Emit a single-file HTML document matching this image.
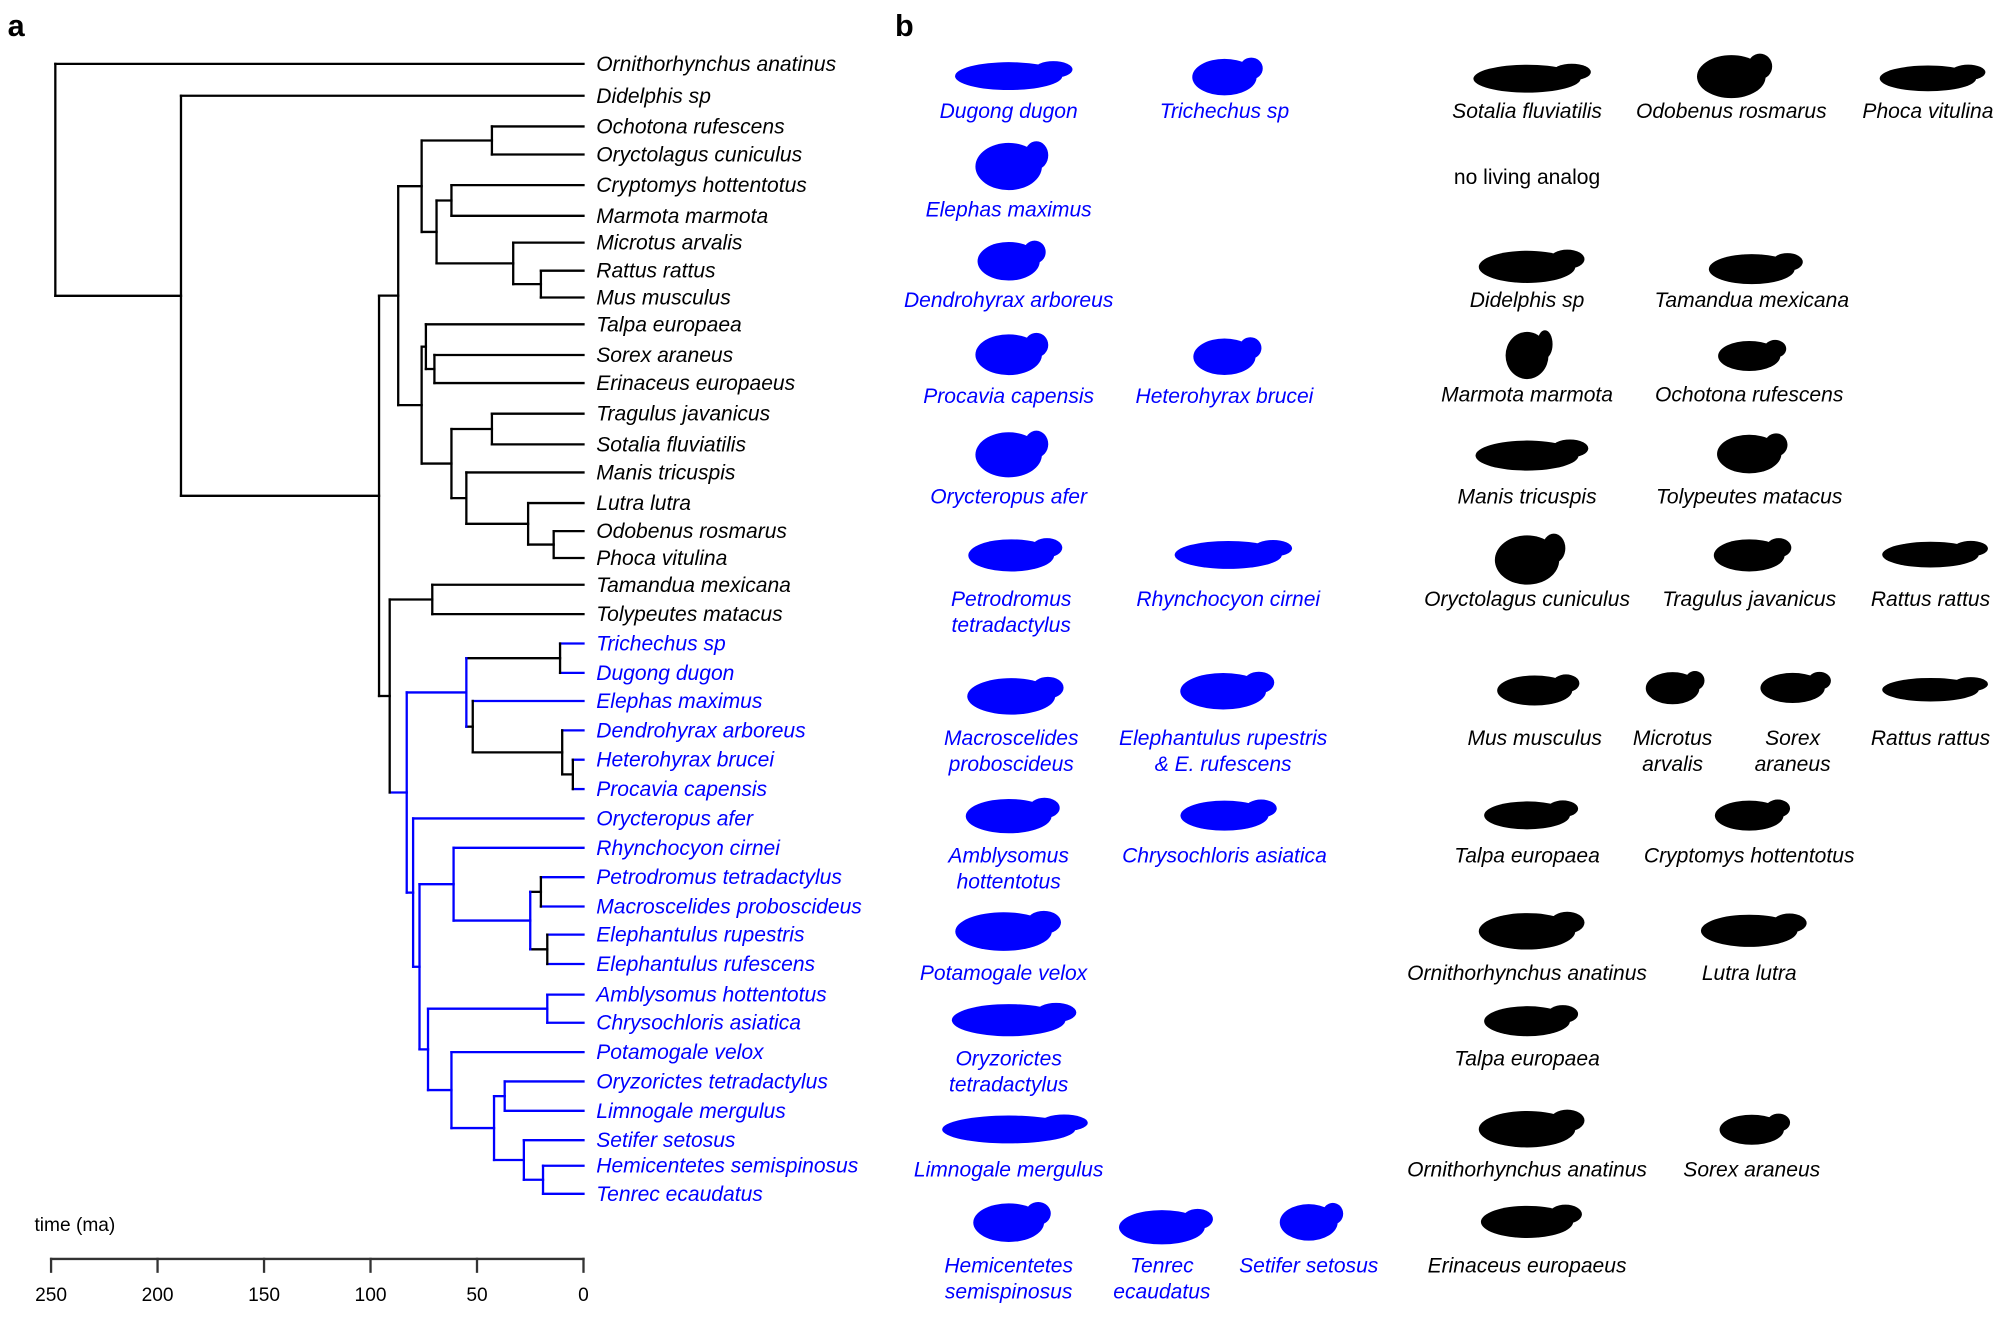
<!DOCTYPE html>
<html><head><meta charset="utf-8"><style>
html,body{margin:0;padding:0;background:#fff}
svg{display:block}
text{font-family:"Liberation Sans","DejaVu Sans",sans-serif}
</style></head><body>
<svg id="fig" width="2002" height="1333" viewBox="0 0 1568 1044" xmlns="http://www.w3.org/2000/svg">
<text x="6" y="28" font-size="24" font-weight="bold">a</text>
<text x="701" y="28" font-size="24" font-weight="bold">b</text>
<g id="tree"></g>
<g id="axis"></g>
<g id="panelb"></g>
</svg>
<script>
const leaves = ["Ornithorhynchus anatinus","Didelphis sp","Ochotona rufescens","Oryctolagus cuniculus","Cryptomys hottentotus","Marmota marmota","Microtus arvalis","Rattus rattus","Mus musculus","Talpa europaea","Sorex araneus","Erinaceus europaeus","Tragulus javanicus","Sotalia fluviatilis","Manis tricuspis","Lutra lutra","Odobenus rosmarus","Phoca vitulina","Tamandua mexicana","Tolypeutes matacus","Trichechus sp","Dugong dugon","Elephas maximus","Dendrohyrax arboreus","Heterohyrax brucei","Procavia capensis","Orycteropus afer","Rhynchocyon cirnei","Petrodromus tetradactylus","Macroscelides proboscideus","Elephantulus rupestris","Elephantulus rufescens","Amblysomus hottentotus","Chrysochloris asiatica","Potamogale velox","Oryzorictes tetradactylus","Limnogale mergulus","Setifer setosus","Hemicentetes semispinosus","Tenrec ecaudatus"];
const leafRowY = [50,75,99,121,145,169,190,212,233,254,278,300,324,348,370,394,416,437,458,481,504,527,549,572,595,618,641,664,687,710,732,755,779,801,824,847,870,893,913,935];
const tree = [248,0,[189,1,[96,
  [87,[76,[43,2,3],[69,[62,4,5],[33,6,[20,7,8]]]],
      [76,[74,9,[70,10,11]],[62,[43,12,13],[55,14,[26,15,[14,16,17]]]]]],
  [91,[71,18,19],
      [83,[55,[11,20,21],[52,22,[10,23,[5,24,25]]],1],
          [80,26,[77,[61,27,[25,[20,28,29],[17,30,31],1],1],
                     [73,[17,32,33,1],[62,34,[42,[37,35,36,1],[28,37,[19,38,39,1],1],1],1],1],1],1],1]]]]];
const ticks = [250,200,150,100,50,0];
const tAt0 = 457, pxPerMa = 1.668;
const xOf = t => tAt0 - t*pxPerMa;
const NS="http://www.w3.org/2000/svg";
const treeG=document.getElementById('tree');
function ln(g,x1,y1,x2,y2,c){const l=document.createElementNS(NS,'line');l.setAttribute('x1',x1);l.setAttribute('y1',y1);l.setAttribute('x2',x2);l.setAttribute('y2',y2);l.setAttribute('stroke',c);l.setAttribute('stroke-width',1.8);l.setAttribute('stroke-linecap','square');


g.appendChild(l);}
function blueLeaf(i){return i>=20;}
function draw(n,parentX){
  if(typeof n==='number'){
    const y=leafRowY[n];const c=blueLeaf(n)?'#0000ff':'#000';
    ln(treeG,parentX,y,xOf(0),y,c);
    const t=document.createElementNS(NS,'text');t.setAttribute('x',467);t.setAttribute('y',y+5.5);t.setAttribute('font-size',16.5);t.setAttribute('font-style','italic');t.setAttribute('fill',c);t.textContent=leaves[n];
    
    
    treeG.appendChild(t);
    return {y,blue:blueLeaf(n)};
  }
  const x=xOf(n[0]);const blue=n[3]===1;const c=blue?'#0000ff':'#000';
  const a=draw(n[1],x),b=draw(n[2],x);
  const y=(a.y+b.y)/2;
  ln(treeG,x,a.y,x,b.y,c);
  if(parentX!==null) ln(treeG,parentX,y,x,y,c);
  return {y,blue};
}
draw(tree,null);
const ax=document.getElementById('axis');
ln(ax,xOf(250),986,xOf(0),986,'#333');
ticks.forEach(v=>{ln(ax,xOf(v),986,xOf(v),996,'#333');
 const t=document.createElementNS(NS,'text');t.setAttribute('x',xOf(v));t.setAttribute('y',1019);t.setAttribute('font-size',15);t.setAttribute('text-anchor','middle');t.textContent=v;
 
 
 ax.appendChild(t);});
const at=document.createElementNS(NS,'text');at.setAttribute('x',27);at.setAttribute('y',964);at.setAttribute('font-size',15);at.textContent='time (ma)';


ax.appendChild(at);
const animals=[
[790,57,100,26,["Dugong dugon"],87,1],[959,57,60,34,["Trichechus sp"],87,1],
[1196,59,100,26,["Sotalia fluviatilis"],87,0],[1356,56,64,40,["Odobenus rosmarus"],87,0],[1510,59,90,24,["Phoca vitulina"],87,0],
[790,126,62,44,["Elephas maximus"],164,1],
[790,201,58,36,["Dendrohyrax arboreus"],235,1],[1196,206,90,30,["Didelphis sp"],235,0],[1372,208,80,28,["Tamandua mexicana"],235,0],
[790,274,62,38,["Procavia capensis"],310,1],[959,276,58,34,["Heterohyrax brucei"],310,1],[1196,274,40,44,["Marmota marmota"],309,0],[1370,276,58,28,["Ochotona rufescens"],309,0],
[790,352,62,42,["Orycteropus afer"],389,1],[1196,354,96,28,["Manis tricuspis"],389,0],[1370,352,60,36,["Tolypeutes matacus"],389,0],
[792,432,80,30,["Petrodromus","tetradactylus"],469,1],[962,432,100,26,["Rhynchocyon cirnei"],469,1],[1196,434,60,46,["Oryctolagus cuniculus"],469,0],[1370,432,66,30,["Tragulus javanicus"],469,0],[1512,432,90,24,["Rattus rattus"],469,0],
[792,542,82,34,["Macroscelides","proboscideus"],578,1],[958,538,80,34,["Elephantulus rupestris","& E. rufescens"],578,1],[1202,538,70,28,["Mus musculus"],578,0],[1310,536,50,30,["Microtus","arvalis"],578,0],[1404,536,60,28,["Sorex","araneus"],578,0],[1512,538,90,22,["Rattus rattus"],578,0],
[790,636,80,32,["Amblysomus","hottentotus"],670,1],[959,636,82,28,["Chrysochloris asiatica"],670,1],[1196,636,80,26,["Talpa europaea"],670,0],[1370,636,64,28,["Cryptomys hottentotus"],670,0],
[786,726,90,36,["Potamogale velox"],762,1],[1196,726,90,34,["Ornithorhynchus anatinus"],762,0],[1370,726,90,30,["Lutra lutra"],762,0],
[790,796,106,30,["Oryzorictes","tetradactylus"],829,1],[1196,797,80,28,["Talpa europaea"],829,0],
[790,882,124,26,["Limnogale mergulus"],916,1],[1196,881,90,34,["Ornithorhynchus anatinus"],916,0],[1372,882,60,28,["Sorex araneus"],916,0],
[790,954,66,36,["Hemicentetes","semispinosus"],991,1],[910,958,80,32,["Tenrec","ecaudatus"],991,1],[1025,954,54,34,["Setifer setosus"],991,1],[1196,954,86,30,["Erinaceus europaeus"],991,0]
];
const pb=document.getElementById('panelb');
animals.forEach(a=>{
 const c=a[6]?'#0000ff':'#000';
 const g=document.createElementNS(NS,'g');
 
 
 const e=document.createElementNS(NS,'ellipse');e.setAttribute('cx',a[0]);e.setAttribute('cy',a[1]+a[3]*0.1);e.setAttribute('rx',a[2]*0.42);e.setAttribute('ry',a[3]*0.42);e.setAttribute('fill',c);
 
 
 g.appendChild(e);
 const h=document.createElementNS(NS,'ellipse');h.setAttribute('cx',a[0]+a[2]*0.35);h.setAttribute('cy',a[1]-a[3]*0.1);h.setAttribute('rx',a[2]*0.15);h.setAttribute('ry',a[3]*0.25);h.setAttribute('fill',c);
 
 
 g.appendChild(h);
 a[4].forEach((s,i)=>{const t=document.createElementNS(NS,'text');t.setAttribute('x',a[0]);t.setAttribute('y',a[5]+5.5+i*20.5);t.setAttribute('font-size',16.5);t.setAttribute('font-style','italic');t.setAttribute('text-anchor','middle');t.setAttribute('fill',c);t.textContent=s;
 
 
 g.appendChild(t);});
 pb.appendChild(g);
});
const nl=document.createElementNS(NS,'text');nl.setAttribute('x',1196);nl.setAttribute('y',144);nl.setAttribute('font-size',16.5);nl.setAttribute('text-anchor','middle');nl.textContent='no living analog';


pb.appendChild(nl);
</script>
</body></html>
